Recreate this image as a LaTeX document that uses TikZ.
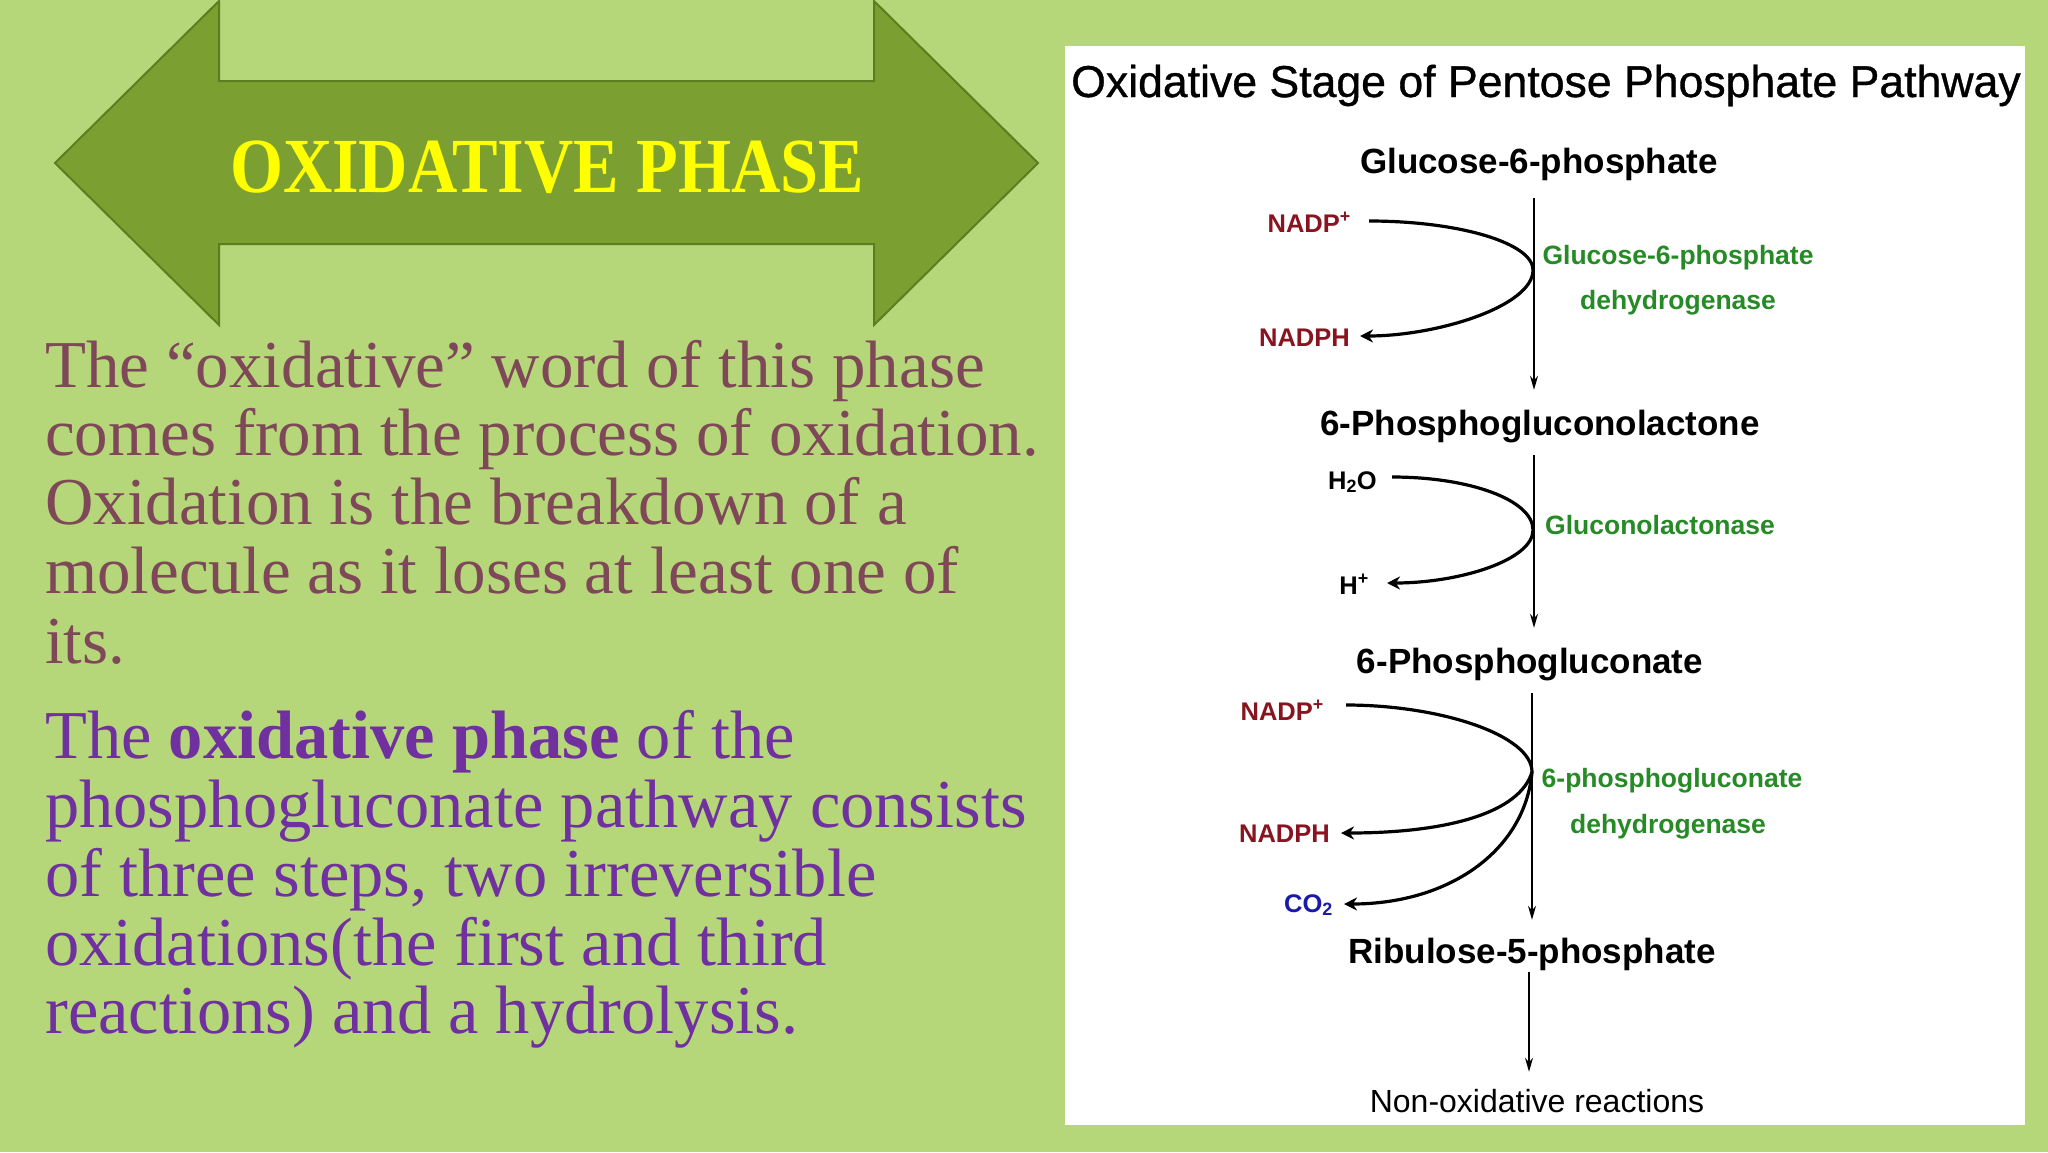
\documentclass[tikz,border=0pt]{standalone}
\usepackage{fontspec}
\setmainfont{Liberation Serif}
\newfontfamily\titlefont[FakeStretch=0.875]{Liberation Serif}
\newfontfamily\arialfont{Liberation Sans}
\newfontfamily\arialheavy[FakeBold=0.8]{Liberation Sans}
\usetikzlibrary{arrows.meta}
\definecolor{bg}{RGB}{181,214,121}
\definecolor{arrowfill}{RGB}{123,160,49}
\definecolor{arrowline}{RGB}{94,125,30}
\definecolor{ttlyellow}{RGB}{255,255,0}
\definecolor{mauve}{RGB}{127,72,88}
\definecolor{purp}{RGB}{112,48,160}
\definecolor{nadpred}{RGB}{135,20,30}
\definecolor{enzgreen}{RGB}{38,138,38}
\definecolor{co2blue}{RGB}{25,25,170}
\tikzset{
  bodyone/.style={anchor=base west, inner sep=0pt, text=mauve, font=\fontsize{67}{69}\selectfont},
  bodytwo/.style={anchor=base west, inner sep=0pt, text=purp, font=\fontsize{68.5}{69}\selectfont},
  compound/.style={anchor=base, font=\arialfont\bfseries\fontsize{35}{40}\selectfont, text height=26pt, text depth=8pt, inner xsep=0pt, inner ysep=12pt},
  enzyme/.style={anchor=base, inner sep=0pt, text=enzgreen, font=\arialfont\bfseries\fontsize{26.5}{30}\selectfont},
  cofactor/.style={anchor=east, inner sep=0pt, text height=18pt, text depth=0pt, font=\arialfont\bfseries\fontsize{25.5}{28}\selectfont},
  mainarrow/.style={draw=black, line width=1.9pt, -{Stealth[length=14pt,width=8pt]}},
  curveline/.style={draw=black, line width=3.2pt},
  curvearrow/.style={draw=black, line width=3.2pt, -{Stealth[length=13pt,width=13pt]}},
}
\begin{document}
\begin{tikzpicture}[x=1pt,y=-1pt]
\fill[bg] (0,0) rectangle (2048,1152);
\useasboundingbox (0,0) rectangle (2048,1152);

% big double arrow
\filldraw[fill=arrowfill, draw=arrowline, line width=2pt]
  (55,163) -- (219,1) -- (219,81) -- (874,81) -- (874,1) -- (1038,163)
  -- (874,325) -- (874,244) -- (219,244) -- (219,325) -- cycle;
\node[anchor=base, inner sep=0pt, text=ttlyellow, font=\titlefont\bfseries\fontsize{78}{80}\selectfont] (title) at (547,192) {OXIDATIVE PHASE};

% body text block 1
\node[bodyone] (a1) at (45,387) {The “oxidative” word of this phase};
\node[bodyone] (a2) at (45,455) {comes from the process of oxidation.};
\node[bodyone] (a3) at (45,524) {Oxidation is the breakdown of a};
\node[bodyone] (a4) at (45,593) {molecule as it loses at least one of};
\node[bodyone] (a5) at (45,663) {its.};

% body text block 2
\node[bodytwo] (b1) at (45,758) {The \textbf{oxidative phase} of the};
\node[bodytwo] (b2) at (45,827) {phosphogluconate pathway consists};
\node[bodytwo] (b3) at (45,896) {of three steps, two irreversible};
\node[bodytwo] (b4) at (45,965) {oxidations(the first and third};
\node[bodytwo] (b5) at (45,1033) {reactions) and a hydrolysis.};

% right panel
\fill[white] (1065,46) rectangle (2025,1125);
\node[anchor=base, inner sep=0pt, font=\arialheavy\fontsize{44.6}{48}\selectfont] (dtitle) at (1546,97) {Oxidative Stage of Pentose Phosphate Pathway};

\node[compound] (g6p) at (1539,173) {Glucose-6-phosphate};
\node[compound] (pgl) at (1540,435) {6-Phosphogluconolactone};
\node[compound] (pgn) at (1530,673) {6-Phosphogluconate};
\node[compound] (r5p) at (1532,963) {Ribulose-5-phosphate};
\node[compound, font=\arialfont\fontsize{32}{36}\selectfont] (nox) at (1537,1112) {Non-oxidative reactions};

\coordinate (ax1) at (1534,0);
\coordinate (ax2) at (1534,0);
\coordinate (ax3) at (1532,0);
\coordinate (ax4) at (1529,0);

\draw[mainarrow, shorten <=5pt, shorten >=7pt] (g6p.south -| ax1) -- (pgl.north -| ax1);
\draw[mainarrow, shorten >=7pt] (pgl.south -| ax2) -- (pgn.north -| ax2);
\draw[mainarrow, shorten >=5pt] (pgn.south -| ax3) -- (r5p.north -| ax3);
\draw[mainarrow, shorten <=-11pt, shorten >=2pt] (r5p.south -| ax4) -- (nox.north -| ax4);

% enzymes
\node[enzyme] (e1a) at (1678,264) {Glucose-6-phosphate};
\node[enzyme] (e1b) at (1678,309) {dehydrogenase};
\node[enzyme] (e2) at (1660,534) {Gluconolactonase};
\node[enzyme] (e3a) at (1672,787) {6-phosphogluconate};
\node[enzyme] (e3b) at (1668,833) {dehydrogenase};

% cofactors
\node[cofactor, text=nadpred] (nadp1) at (1351,223) {NADP\textsuperscript{+}};
\node[cofactor, text=nadpred] (nadph1) at (1350,337) {NADPH};
\node[cofactor] (h2o) at (1377,480) {H\textsubscript{2}O};
\node[cofactor] (hplus) at (1369,585) {H\textsuperscript{+}};
\node[cofactor, text=nadpred] (nadp2) at (1324,711) {NADP\textsuperscript{+}};
\node[cofactor, text=nadpred] (nadph2) at (1330,833) {NADPH};
\node[cofactor, text=co2blue] (co2) at (1333,903) {CO\textsubscript{2}};

\coordinate (t1) at (1533,270);
\coordinate (t2) at (1533,530);
\coordinate (t3) at (1532,772);

\draw[curvearrow] ([xshift=18pt,yshift=2pt]nadp1.east) .. controls (1459,221) and (1533,243) .. (t1)
  .. controls (1533,306) and (1438,336) .. ([xshift=10pt,yshift=1pt]nadph1.east);
\draw[curvearrow] ([xshift=15pt,yshift=3pt]h2o.east) .. controls (1470,477) and (1533,500) .. (t2)
  .. controls (1533,560) and (1460,583) .. ([xshift=18pt,yshift=2pt]hplus.east);
\draw[curveline] ([xshift=22pt,yshift=6pt]nadp2.east) .. controls (1440,705) and (1532,735) .. (t3);
\draw[curvearrow] (t3) .. controls (1520,812) and (1450,833) .. ([xshift=11pt]nadph2.east);
\draw[curvearrow] (t3) .. controls (1525,850) and (1450,904) .. ([xshift=11pt,yshift=-1pt]co2.east);
\end{tikzpicture}
\end{document}
